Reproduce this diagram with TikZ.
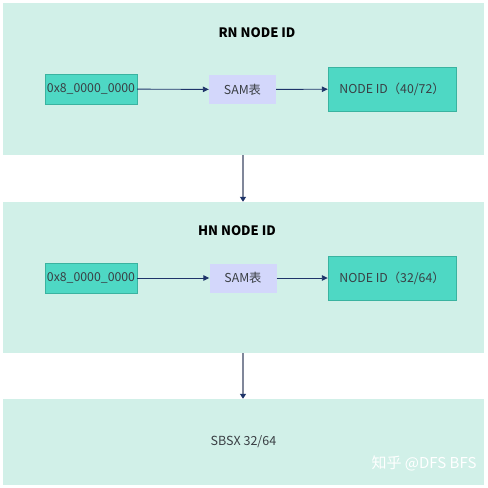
\documentclass[tikz,border=0pt]{standalone}
\usepackage{fontspec}
\setmainfont{Noto Sans CJK SC}
\usepackage{tikz}
\usetikzlibrary{arrows.meta}
\pgfdeclarelayer{bg}
\pgfsetlayers{bg,main}
\definecolor{panelc}{HTML}{D1F0E8}
\definecolor{tealc}{HTML}{4ED8C4}
\definecolor{tealb}{HTML}{3AB3A0}
\definecolor{samc}{HTML}{D3D7FB}
\definecolor{navyc}{HTML}{1E3469}
\definecolor{linkc}{HTML}{80879A}
\definecolor{txtc}{HTML}{3A3F44}

\begin{document}
\begin{tikzpicture}[x=1pt,y=-1pt,
  panel/.style={fill=panelc, minimum width=481pt, inner sep=0pt},
  addr/.style={fill=tealc, draw=tealb, minimum width=92pt, minimum height=30pt, inner sep=1pt, text=txtc, font=\fontsize{12.3}{14}\selectfont},
  sam/.style={fill=samc, minimum width=67pt, minimum height=29pt, text=txtc, font=\fontsize{12.3}{14}\selectfont},
  nid/.style={fill=tealc, draw=tealb, minimum width=128pt, minimum height=44pt, text=txtc, font=\fontsize{12.3}{14}\selectfont},
  title/.style={font=\bfseries\fontsize{13}{15}\selectfont},
  flow/.style={-{Triangle[length=6pt,width=5.5pt]}, navyc, line width=0.9pt},
  down/.style={linkc, line width=1.2pt, -{Triangle[length=5pt,width=6pt,color=navyc]}}]
  \useasboundingbox (0,0) rectangle (488,488);
  \fill[white] (0,0) rectangle (488,488);

  % panels
  \node [panel, minimum height=152pt] (rnpanel) at (243.5,79) {};
  \node [panel, minimum height=151pt] (hnpanel) at (243.5,277.5) {};
  \node [panel, minimum height=86pt, text=txtc, font=\fontsize{12.5}{14}\selectfont] (sbsx) at (243.5,442) {SBSX 32/64};

  % RN
  \node [title] (rntitle) at (257,33) {RN NODE ID};
  \node [addr] (addr1) at (91,89) {0x8\_0000\_0000};
  \node [sam] (sam1) at (242.5,89.5) {SAM表};
  \node [nid] (id1) at (392,89) {NODE ID（40/72）};
  \draw [flow] (addr1) -- (sam1);
  \draw [flow] (sam1) -- (id1);

  % HN
  \node [title] (hntitle) at (237,231) {HN NODE ID};
  \node [addr] (addr2) at (91,278) {0x8\_0000\_0000};
  \node [sam] (sam2) at (243,278) {SAM表};
  \node [nid] (id2) at (392,278) {NODE ID（32/64）};
  \draw [flow] (addr2) -- (sam2);
  \draw [flow] (sam2) -- (id2);

  \draw [down] (rnpanel.south -| 243,0) -- (hnpanel.north -| 243,0);
  \draw [down] (hnpanel.south -| 243,0) -- (sbsx.north -| 243,0);

  \node [text=white, font=\fontsize{15}{17}\selectfont] (mark) at (424,463) {知乎 @DFS BFS};

  \begin{pgfonlayer}{bg}
    \draw [gray!50, dashed] (73,0) -- (73,488);
  \end{pgfonlayer}
\end{tikzpicture}
\end{document}
